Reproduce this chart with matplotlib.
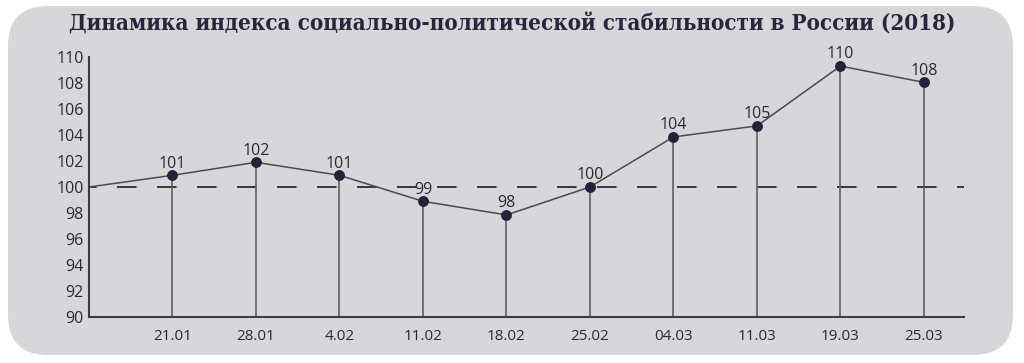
import matplotlib
matplotlib.use("Agg")
import matplotlib.pyplot as plt
from matplotlib.patches import FancyBboxPatch

plt.rcParams['lines.scale_dashes'] = False

# Data
dates = ["", "21.01", "28.01", "4.02", "11.02", "18.02", "25.02", "04.03", "11.03", "19.03", "25.03"]
values = [100.0, 100.9, 101.9, 100.9, 98.9, 97.85, 100.0, 103.85, 104.7, 109.3, 108.05]
value_labels = ["", "101", "102", "101", "99", "98", "100", "104", "105", "110", "108"]
yticks = [90, 92, 94, 96, 98, 100, 102, 104, 106, 108, 110]
title = "Динамика индекса социально-политической стабильности в России (2018)"

W, H = 1024, 363
fig = plt.figure(figsize=(W / 100, H / 100), dpi=100)
fig.patch.set_facecolor("white")

# rounded grey background (own axes, behind everything)
bgax = fig.add_axes([0, 0, 1, 1], zorder=0)
bgax.set_xlim(0, W)
bgax.set_ylim(H, 0)
bgax.axis("off")
bgax.add_patch(FancyBboxPatch((8, 6), 1005, 349,
                              boxstyle="round,pad=0,rounding_size=40",
                              facecolor="#d6d7d9", edgecolor="none"))

ax = fig.add_axes([89 / W, 1 - 317 / H, (964 - 89) / W, (317 - 57) / H], zorder=1)
ax.set_facecolor("none")

xs = list(range(len(values)))
ax.set_xlim(0, 10.48)
ax.set_ylim(90, 110)

dark = "#25213a"
txt = "#2a2a30"

# dashed reference line
ax.axhline(100, color="#2a2838", lw=1.3, linestyle=(8.6, (14, 14.8)), zorder=1)

# vertical drop lines
for x, v in zip(xs[1:], values[1:]):
    ax.plot([x, x], [90, v], color="#5e5e66", lw=1.2, zorder=2)

# main line
ax.plot(xs, values, color="#4a4a55", lw=1.1, zorder=3)
ax.plot(xs[1:], values[1:], "o", color=dark, markersize=6.8, zorder=4)

for x, v, lab in zip(xs[1:], values[1:], value_labels[1:]):
    ax.annotate(lab, (x, v), xytext=(0, 5.5), textcoords="offset points",
                ha="center", va="baseline", fontsize=11.5, color=txt,
                family="Open Sans", zorder=5)

ax.set_yticks(yticks)
ax.set_yticklabels([str(t) for t in yticks], fontsize=11.5, color=txt, family="Open Sans")
ax.set_xticks(xs[1:])
ax.set_xticklabels(dates[1:], fontsize=11, color=txt, family="Open Sans")
ax.tick_params(axis="both", length=0)
ax.tick_params(axis="y", pad=4)
ax.tick_params(axis="x", pad=8.5)

for s in ["top", "right"]:
    ax.spines[s].set_visible(False)
for s in ["left", "bottom"]:
    ax.spines[s].set_color("#3c3a4a")
    ax.spines[s].set_linewidth(1.5)

fig.text(0.5, 1 - 24 / H, title, ha="center", va="center", fontsize=16,
         fontweight="bold", family="DejaVu Serif", stretch="condensed",
         color="#2a2440", zorder=3)

fig.savefig("out.png", dpi=100, facecolor="white")
